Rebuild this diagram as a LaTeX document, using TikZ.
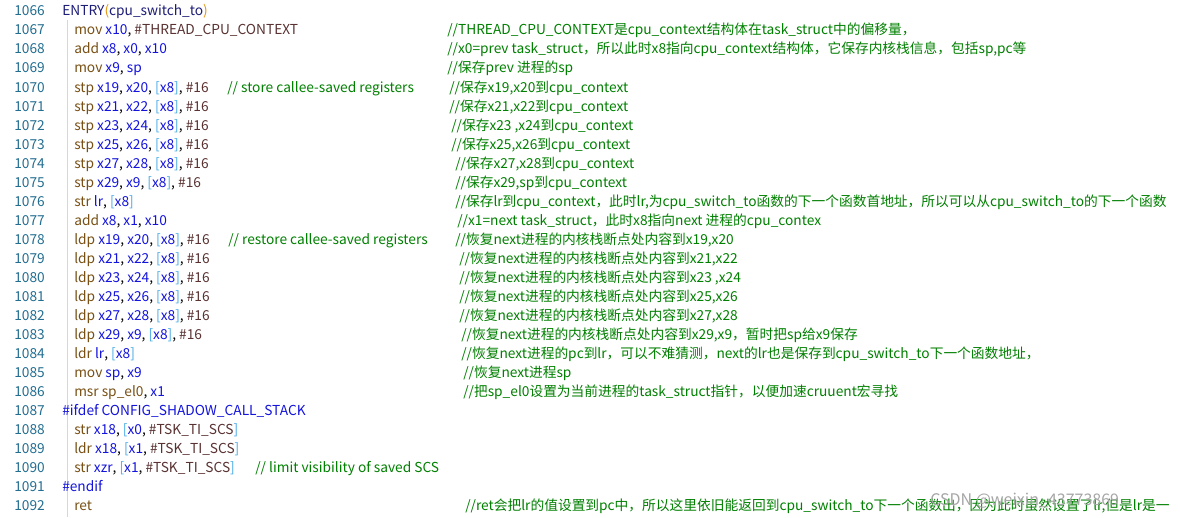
\documentclass[tikz,border=0pt]{standalone}
\usepackage{fontspec}
\setmainfont{Noto Sans CJK SC}
\definecolor{lnum}{RGB}{35,110,145}
\definecolor{kw}{RGB}{120,80,20}
\definecolor{reg}{RGB}{20,20,220}
\definecolor{brk}{RGB}{70,170,230}
\definecolor{cmt}{RGB}{0,128,0}
\definecolor{entry}{RGB}{30,30,120}
\definecolor{par}{RGB}{230,150,20}
\definecolor{imm}{RGB}{90,50,50}
\definecolor{guide}{RGB}{215,215,215}
\newcommand\K[1]{\textcolor{kw}{#1}}
\newcommand\Rg[1]{\textcolor{reg}{#1}}
\newcommand\Bk[1]{\textcolor{brk}{#1}}
\newcommand\Iv[1]{\textcolor{imm}{#1}}
\tikzset{
  txt/.style={anchor=base west,inner sep=0pt,font=\fontsize{10.3pt}{12pt}\selectfont},
  code/.style={txt},
  cmtxt/.style={txt,text=cmt},
  ln/.style={txt,text=lnum},
}
\begin{document}
\begin{tikzpicture}[x=0.75pt,y=-0.75pt]
\useasboundingbox[fill=white] (0,0) rectangle (1180,517);
\draw[guide,line width=0.75pt] (67,20) -- (67,517);
\foreach \i in {0,...,26}{
  \pgfmathtruncatemacro\n{1066+\i}
  \node[ln] (l\i) at (14,{16+19*\i}) {\n};
}
% code
\node[code] (c0) at (62,16) {\textcolor{entry}{ENTRY}\textcolor{par}{(}\textcolor{entry}{cpu\_switch\_to}\textcolor{par}{)}};
\node[code] (c1) at (74,35) {\K{mov} \Rg{x10}, \Iv{\#THREAD\_CPU\_CONTEXT}};
\node[code] (c2) at (74,54) {\K{add} \Rg{x8}, \Rg{x0}, \Rg{x10}};
\node[code] (c3) at (74,73) {\K{mov} \Rg{x9}, \Rg{sp}};
\node[code] (c4) at (74,92) {\K{stp} \Rg{x19}, \Rg{x20}, \Bk{[}\Rg{x8}\Bk{]}, \Iv{\#16}};
\node[code] (c5) at (74,111) {\K{stp} \Rg{x21}, \Rg{x22}, \Bk{[}\Rg{x8}\Bk{]}, \Iv{\#16}};
\node[code] (c6) at (74,130) {\K{stp} \Rg{x23}, \Rg{x24}, \Bk{[}\Rg{x8}\Bk{]}, \Iv{\#16}};
\node[code] (c7) at (74,149) {\K{stp} \Rg{x25}, \Rg{x26}, \Bk{[}\Rg{x8}\Bk{]}, \Iv{\#16}};
\node[code] (c8) at (74,168) {\K{stp} \Rg{x27}, \Rg{x28}, \Bk{[}\Rg{x8}\Bk{]}, \Iv{\#16}};
\node[code] (c9) at (74,187) {\K{stp} \Rg{x29}, \Rg{x9}, \Bk{[}\Rg{x8}\Bk{]}, \Iv{\#16}};
\node[code] (c10) at (74,206) {\K{str} \Rg{lr}, \Bk{[}\Rg{x8}\Bk{]}};
\node[code] (c11) at (74,225) {\K{add} \Rg{x8}, \Rg{x1}, \Rg{x10}};
\node[code] (c12) at (74,244) {\K{ldp} \Rg{x19}, \Rg{x20}, \Bk{[}\Rg{x8}\Bk{]}, \Iv{\#16}};
\node[code] (c13) at (74,263) {\K{ldp} \Rg{x21}, \Rg{x22}, \Bk{[}\Rg{x8}\Bk{]}, \Iv{\#16}};
\node[code] (c14) at (74,282) {\K{ldp} \Rg{x23}, \Rg{x24}, \Bk{[}\Rg{x8}\Bk{]}, \Iv{\#16}};
\node[code] (c15) at (74,301) {\K{ldp} \Rg{x25}, \Rg{x26}, \Bk{[}\Rg{x8}\Bk{]}, \Iv{\#16}};
\node[code] (c16) at (74,320) {\K{ldp} \Rg{x27}, \Rg{x28}, \Bk{[}\Rg{x8}\Bk{]}, \Iv{\#16}};
\node[code] (c17) at (74,339) {\K{ldp} \Rg{x29}, \Rg{x9}, \Bk{[}\Rg{x8}\Bk{]}, \Iv{\#16}};
\node[code] (c18) at (74,358) {\K{ldr} \Rg{lr}, \Bk{[}\Rg{x8}\Bk{]}};
\node[code] (c19) at (74,377) {\K{mov} \Rg{sp}, \Rg{x9}};
\node[code] (c20) at (74,396) {\K{msr} \K{sp\_el0}, \Rg{x1}};
\node[code,text=reg] (c21) at (62,415) {\#ifdef CONFIG\_SHADOW\_CALL\_STACK};
\node[code] (c22) at (74,434) {\K{str} \Rg{x18}, \Bk{[}\Rg{x0}, \Iv{\#TSK\_TI\_SCS}\Bk{]}};
\node[code] (c23) at (74,453) {\K{ldr} \Rg{x18}, \Bk{[}\Rg{x1}, \Iv{\#TSK\_TI\_SCS}\Bk{]}};
\node[code] (c24) at (74,472) {\K{str} \Rg{xzr}, \Bk{[}\Rg{x1}, \Iv{\#TSK\_TI\_SCS}\Bk{]}};
\node[code,text=reg] (c25) at (62,491) {\#endif};
\node[code] (c26) at (74,510) {\K{ret}};
% inline comments
\node[cmtxt] (i4) at (227,92) {// store callee-saved registers};
\node[cmtxt] (i12) at (228,244) {// restore callee-saved registers};
\node[cmtxt] (i24) at (255,472) {// limit visibility of saved SCS};
% right comments
\node[cmtxt] (r1) at (447,35) {//THREAD\_CPU\_CONTEXT是cpu\_context结构体在task\_struct中的偏移量，};
\node[cmtxt] (r2) at (447,54) {//x0=prev task\_struct，所以此时x8指向cpu\_context结构体，它保存内核栈信息，包括sp,pc等};
\node[cmtxt] (r3) at (447,73) {//保存prev 进程的sp};
\node[cmtxt] (r4) at (449,92) {//保存x19,x20到cpu\_context};
\node[cmtxt] (r5) at (449,111) {//保存x21,x22到cpu\_context};
\node[cmtxt] (r6) at (451,130) {//保存x23 ,x24到cpu\_context};
\node[cmtxt] (r7) at (451,149) {//保存x25,x26到cpu\_context};
\node[cmtxt] (r8) at (455,168) {//保存x27,x28到cpu\_context};
\node[cmtxt] (r9) at (455,187) {//保存x29,sp到cpu\_context};
\node[cmtxt] (r10) at (455,206) {//保存lr到cpu\_context，此时lr,为cpu\_switch\_to函数的下一个函数首地址，所以可以从cpu\_switch\_to的下一个函数};
\node[cmtxt] (r11) at (457,225) {//x1=next task\_struct，此时x8指向next 进程的cpu\_contex};
\node[cmtxt] (r12) at (455,244) {//恢复next进程的内核栈断点处内容到x19,x20};
\node[cmtxt] (r13) at (459,263) {//恢复next进程的内核栈断点处内容到x21,x22};
\node[cmtxt] (r14) at (459,282) {//恢复next进程的内核栈断点处内容到x23 ,x24};
\node[cmtxt] (r15) at (459,301) {//恢复next进程的内核栈断点处内容到x25,x26};
\node[cmtxt] (r16) at (459,320) {//恢复next进程的内核栈断点处内容到x27,x28};
\node[cmtxt] (r17) at (461,339) {//恢复next进程的内核栈断点处内容到x29,x9，暂时把sp给x9保存};
\node[cmtxt] (r18) at (461,358) {//恢复next进程的pc到lr，可以不难猜测，next的lr也是保存到cpu\_switch\_to下一个函数地址，};
\node[cmtxt] (r19) at (463,377) {//恢复next进程sp};
\node[cmtxt] (r20) at (463,396) {//把sp\_el0设置为当前进程的task\_struct指针，以便加速cruuent宏寻找};
\node[cmtxt] (r26) at (465,510) {//ret会把lr的值设置到pc中，所以这里依旧能返回到cpu\_switch\_to下一个函数出，因为此时虽然设置了lr,但是lr是一};
\node[txt,text=black!35,font=\fontsize{12pt}{14pt}\selectfont] (wm) at (930,505) {CSDN @weixin\_43773869};
\end{tikzpicture}
\end{document}
